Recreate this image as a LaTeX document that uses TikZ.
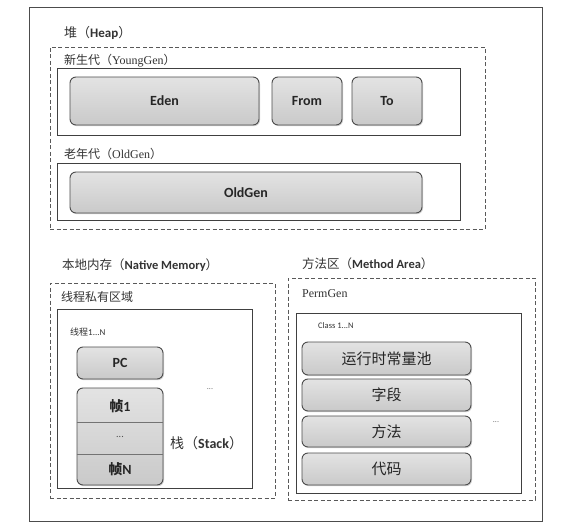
\documentclass[tikz,border=0pt]{standalone}
\usepackage{fontspec}
\setmainfont{Carlito}
\newfontfamily\cjk{Noto Sans CJK SC}
\newfontfamily\tnr{Liberation Serif}
\usetikzlibrary{shadows}
\begin{document}
\begin{tikzpicture}[x=1pt,y=-1pt,
  frame/.style={draw=black!75,line width=0.9pt,inner sep=0pt},
  dframe/.style={draw=black!65,line width=0.9pt,dash pattern=on 4pt off 2.5pt,inner sep=0pt},
  gbox/.style={draw=black!70,line width=0.9pt,rounded corners=6pt,inner sep=0pt,
     top color=gray!22,bottom color=gray!42,
     drop shadow={shadow xshift=1pt,shadow yshift=-1.2pt,opacity=0.35},
     text=black!85},
  lbl/.style={anchor=west,inner sep=0pt,text=black!80},
  dots/.style={inner sep=0pt,text=black!60,font=\fontsize{8}{8}\selectfont}]
\useasboundingbox (0,0) rectangle (568,530);
\fill[white] (0,0) rectangle (568,530);
% outer frame
\node[frame,draw=black!70,minimum width=513,minimum height=514] (outer) at (285.5,264) {};
% Heap
\node[lbl,font=\fontsize{13}{13}\selectfont] (heaplbl) at (64,33) {{\cjk 堆（}\textbf{Heap}{\cjk ）}};
\node[dframe,minimum width=435,minimum height=182] (heap) at (267.5,138) {};
\node[lbl,font=\fontsize{12}{12}\selectfont] (younglbl) at (64,61) {{\cjk 新生代（}{\tnr YoungGen}{\cjk ）}};
\node[frame,minimum width=403,minimum height=67] (young) at (258.5,101.5) {};
\node[gbox,minimum width=189,minimum height=48,font=\fontsize{14}{14}\selectfont\bfseries] (eden) at (164.5,101) {Eden};
\node[gbox,minimum width=70,minimum height=48,font=\fontsize{14}{14}\selectfont\bfseries] (from) at (307,101) {From};
\node[gbox,minimum width=70,minimum height=48,font=\fontsize{14}{14}\selectfont\bfseries] (to) at (387,101) {To};
\node[lbl,font=\fontsize{12}{12}\selectfont] (oldlbl) at (64,154) {{\cjk 老年代（}{\tnr OldGen}{\cjk ）}};
\node[frame,minimum width=403,minimum height=57] (oldframe) at (258.5,191.5) {};
\node[gbox,minimum width=352,minimum height=41,font=\fontsize{14}{14}\selectfont\bfseries] (oldgen) at (246,192.5) {OldGen};
% Native memory
\node[lbl,font=\fontsize{12.5}{12.5}\selectfont] (nativelbl) at (62,265) {{\cjk 本地内存（}\textbf{Native Memory}{\cjk ）}};
\node[dframe,minimum width=225,minimum height=215] (native) at (162.5,390.5) {};
\node[lbl,font=\fontsize{12}{12}\selectfont] (privlbl) at (61,297) {{\cjk 线程私有区域}};
\node[frame,minimum width=195,minimum height=179] (thread) at (154.5,398.5) {};
\node[lbl,font=\fontsize{9}{9}\selectfont] (threadlbl) at (70,332) {{\cjk 线程}1...N};
\node[gbox,minimum width=86,minimum height=32,font=\fontsize{14}{14}\selectfont\bfseries] (pc) at (120,363) {PC};
\node[gbox,minimum width=86,minimum height=97] (stack) at (120,436.5) {};
\draw[black!55,line width=0.6pt] (stack.west |- 0,422) coordinate (s1l) -- (stack.east |- 0,422) coordinate (s1r);
\draw[black!55,line width=0.6pt] (stack.west |- 0,454) coordinate (s2l) -- (stack.east |- 0,454) coordinate (s2r);
\node[inner sep=0pt,font=\fontsize{14}{14}\selectfont\bfseries,text=black!85] (f1) at (120,406) {{\cjk 帧}1};
\node[inner sep=0pt,font=\fontsize{10}{10}\selectfont,text=black!70] (fdots) at (120,437) {...};
\node[inner sep=0pt,font=\fontsize{14}{14}\selectfont\bfseries,text=black!85] (fn) at (120,469) {{\cjk 帧}N};
\node[lbl,font=\fontsize{14}{14}\selectfont] (stacklbl) at (170,443) {{\cjk 栈（}\textbf{Stack}{\cjk ）}};
\node[dots] (tdots) at (210,389) {...};
% Method area
\node[lbl,font=\fontsize{12.5}{12.5}\selectfont] (methodlbl) at (302,264) {{\cjk 方法区（}\textbf{Method Area}{\cjk ）}};
\node[dframe,minimum width=247,minimum height=222] (method) at (411.5,389) {};
\node[lbl,font=\fontsize{12}{12}\selectfont] (permlbl) at (302,294) {\tnr PermGen};
\node[frame,minimum width=225,minimum height=180] (perm) at (408.5,403) {};
\node[lbl,font=\fontsize{8.5}{8.5}\selectfont] (classlbl) at (318,326) {Class 1...N};
\node[gbox,minimum width=169,minimum height=33,font=\fontsize{15}{15}\selectfont\cjk] (pool) at (386.5,358.5) {运行时常量池};
\node[gbox,minimum width=169,minimum height=32,font=\fontsize{15}{15}\selectfont\cjk] (field) at (386.5,395) {字段};
\node[gbox,minimum width=169,minimum height=31,font=\fontsize{15}{15}\selectfont\cjk] (meth) at (386.5,431.5) {方法};
\node[gbox,minimum width=169,minimum height=32,font=\fontsize{15}{15}\selectfont\cjk] (code) at (386.5,469) {代码};
\node[dots] (mdots) at (496,422) {...};
\end{tikzpicture}
\end{document}
